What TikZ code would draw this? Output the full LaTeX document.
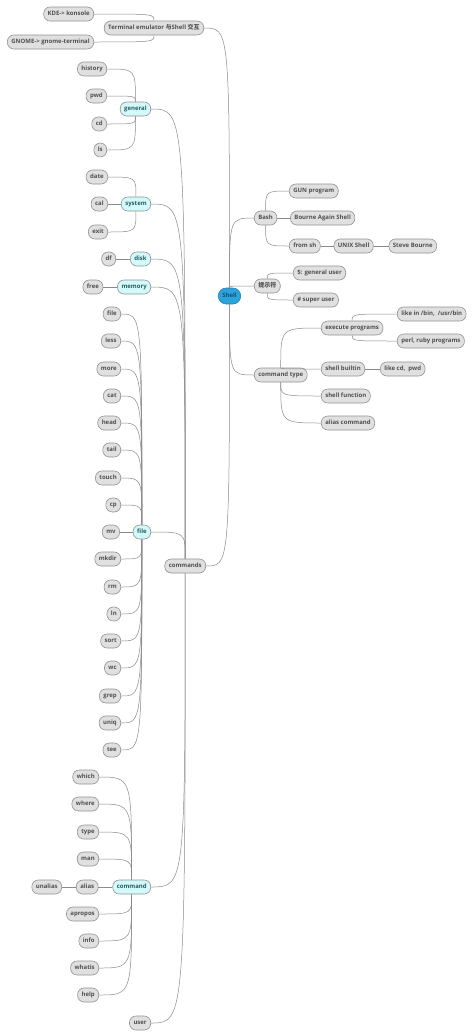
\documentclass[tikz,border=0pt]{standalone}
\usepackage{fontspec}
\setmainfont{Open Sans}
\newfontfamily\cjk{Noto Sans CJK SC}
\usepackage{xcolor}
\usetikzlibrary{positioning}
\definecolor{topicfill}{HTML}{E0E0E0}
\definecolor{topicdraw}{HTML}{929292}
\definecolor{topictext}{HTML}{505050}
\definecolor{groupfill}{HTML}{D2FAFA}
\definecolor{grouptext}{HTML}{2E5C62}
\definecolor{rootfill}{HTML}{2CA4DA}
\definecolor{rootdraw}{HTML}{1F80B0}
\definecolor{roottext}{HTML}{1A4C7C}
\definecolor{linkgray}{HTML}{8A8A8A}
\tikzset{
  topic/.style={
    draw=topicdraw,
    fill=topicfill,
    text=topictext,
    rounded corners=6.5pt,
    minimum height=14pt,
    inner xsep=4pt,
    inner ysep=0pt,
    text height=4.6pt,
    text depth=1.4pt,
    font=\bfseries\fontsize{6}{7}\selectfont,
    line width=0.6pt
  },
  group/.style={topic, fill=groupfill, text=grouptext},
  rootnode/.style={topic, fill=rootfill, draw=rootdraw, text=roottext, minimum height=16pt, rounded corners=8pt},
  link/.style={draw=linkgray, line width=0.5pt}
}

\begin{document}
\begin{tikzpicture}[x=1pt, y=-1pt, node distance=13pt]
  \path[fill=white] (0,0) rectangle (474,1036);

  % root
  \node[rootnode] (shell) at (229.5,296) {Shell};

  % left of root
  \node[topic, anchor=east] (term) at (204,28) {Terminal emulator {\cjk 与}Shell {\cjk 交互}};
  \node[topic, anchor=east] (kde) at (94,14) {KDE-> konsole};
  \node[topic, anchor=east] (gnome) at (94,42) {GNOME-> gnome-terminal};
  \node[topic, anchor=east] (commands) at (206,566) {commands};

  % groups under commands
  \node[group, anchor=east] (general) at (151,109) {general};
  \node[group, anchor=east] (system) at (151,204) {system};
  \node[group, anchor=east] (disk) at (151,259) {disk};
  \node[group, anchor=east] (memory) at (151,287) {memory};
  \node[group, anchor=east] (filegrp) at (151,532) {file};
  \node[group, anchor=east] (command) at (151,887) {command};
  \node[topic, anchor=east] (user) at (151,1023) {user};

  % general
  \node[topic, anchor=east] (history) at (107,69) {history};
  \node[topic, anchor=east] (pwd) at (107,96) {pwd};
  \node[topic, anchor=east] (cd) at (107,124) {cd};
  \node[topic, anchor=east] (ls) at (107,150) {ls};

  % system
  \node[topic, anchor=east] (date) at (108,177) {date};
  \node[topic, left=of system] (cal) {cal};
  \node[topic, anchor=east] (exit) at (108,232) {exit};

  % disk, memory
  \node[topic, left=14pt of disk] (df) {df};
  \node[topic, left=14pt of memory] (free) {free};

  % file
  \node[topic, anchor=east] (filecmd) at (121,314) {file};
  \node[topic, anchor=east] (less) at (121,341) {less};
  \node[topic, anchor=east] (more) at (121,369) {more};
  \node[topic, anchor=east] (cat) at (121,396) {cat};
  \node[topic, anchor=east] (head) at (121,423) {head};
  \node[topic, anchor=east] (tail) at (121,450) {tail};
  \node[topic, anchor=east] (touch) at (121,478) {touch};
  \node[topic, anchor=east] (cp) at (121,505) {cp};
  \node[topic, left=of filegrp] (mv) {mv};
  \node[topic, anchor=east] (mkdir) at (121,559) {mkdir};
  \node[topic, anchor=east] (rm) at (121,587) {rm};
  \node[topic, anchor=east] (ln) at (121,614) {ln};
  \node[topic, anchor=east] (sort) at (121,641) {sort};
  \node[topic, anchor=east] (wc) at (121,668) {wc};
  \node[topic, anchor=east] (grep) at (121,696) {grep};
  \node[topic, anchor=east] (uniq) at (121,723) {uniq};
  \node[topic, anchor=east] (tee) at (121,750) {tee};

  % command
  \node[topic, anchor=east] (which) at (99,777) {which};
  \node[topic, anchor=east] (where) at (99,804) {where};
  \node[topic, anchor=east] (type) at (99,832) {type};
  \node[topic, anchor=east] (man) at (99,859) {man};
  \node[topic, left=14pt of command] (alias) {alias};
  \node[topic, left=14pt of alias] (unalias) {unalias};
  \node[topic, anchor=east] (apropos) at (99,914) {apropos};
  \node[topic, anchor=east] (info) at (99,941) {info};
  \node[topic, anchor=east] (whatis) at (99,968) {whatis};
  \node[topic, anchor=east] (help) at (99,995) {help};

  % right of root
  \node[topic, anchor=west] (bash) at (254,218) {Bash};
  \node[topic, anchor=west] (prompt) at (254,286) {{\cjk 提示符}};
  \node[topic, anchor=west] (ctype) at (254,375) {command type};

  \node[topic, anchor=west] (gun) at (289,191) {GUN program};
  \node[topic, right=of bash] (bas) {Bourne Again Shell};
  \node[topic, anchor=west] (fromsh) at (289,246) {from sh};
  \node[topic, right=of fromsh] (unix) {UNIX Shell};
  \node[topic, right=15pt of unix] (steve) {Steve Bourne};

  \node[topic, anchor=west] (gnuser) at (293,273) {\$: general user};
  \node[topic, anchor=west] (super) at (293,300) {\# super user};

  \node[topic, anchor=west] (exec) at (321,328) {execute programs};
  \node[topic, anchor=west] (likebin) at (397,314) {like in /bin, \ /usr/bin};
  \node[topic, anchor=west] (perl) at (397,341) {perl, ruby programs};
  \node[topic, anchor=west] (builtin) at (321,369) {shell builtin};
  \node[topic, right=15pt of builtin] (likecd) {like cd, \ pwd};
  \node[topic, anchor=west] (func) at (321,396) {shell function};
  \node[topic, anchor=west] (aliascmd) at (321,423) {alias command};

  % links, left side
  \draw[link] (term.east) .. controls (shell |- term) .. (shell);
  \draw[link] (commands.east) .. controls (shell |- commands) .. (shell);
  \draw[link] (kde.east) .. controls (term |- kde) .. (term);
  \draw[link] (gnome.east) .. controls (term |- gnome) .. (term);

  \draw[link] (general.east) .. controls (commands |- general) .. (commands);
  \draw[link] (system.east) .. controls (commands |- system) .. (commands);
  \draw[link] (disk.east) .. controls (commands |- disk) .. (commands);
  \draw[link] (memory.east) .. controls (commands |- memory) .. (commands);
  \draw[link] (filegrp.east) .. controls (commands |- filegrp) .. (commands);
  \draw[link] (command.east) .. controls (commands |- command) .. (commands);
  \draw[link] (user.east) .. controls (commands |- user) .. (commands);

  \draw[link] (history.east) .. controls (general |- history) .. (general);
  \draw[link] (pwd.east) .. controls (general |- pwd) .. (general);
  \draw[link] (cd.east) .. controls (general |- cd) .. (general);
  \draw[link] (ls.east) .. controls (general |- ls) .. (general);

  \draw[link] (date.east) .. controls (system |- date) .. (system);
  \draw[link] (cal) -- (system);
  \draw[link] (exit.east) .. controls (system |- exit) .. (system);

  \draw[link] (df) -- (disk);
  \draw[link] (free) -- (memory);

  \draw[link] (filecmd.east) .. controls (filegrp |- filecmd) .. (filegrp);
  \draw[link] (less.east) .. controls (filegrp |- less) .. (filegrp);
  \draw[link] (more.east) .. controls (filegrp |- more) .. (filegrp);
  \draw[link] (cat.east) .. controls (filegrp |- cat) .. (filegrp);
  \draw[link] (head.east) .. controls (filegrp |- head) .. (filegrp);
  \draw[link] (tail.east) .. controls (filegrp |- tail) .. (filegrp);
  \draw[link] (touch.east) .. controls (filegrp |- touch) .. (filegrp);
  \draw[link] (cp.east) .. controls (filegrp |- cp) .. (filegrp);
  \draw[link] (mv) -- (filegrp);
  \draw[link] (mkdir.east) .. controls (filegrp |- mkdir) .. (filegrp);
  \draw[link] (rm.east) .. controls (filegrp |- rm) .. (filegrp);
  \draw[link] (ln.east) .. controls (filegrp |- ln) .. (filegrp);
  \draw[link] (sort.east) .. controls (filegrp |- sort) .. (filegrp);
  \draw[link] (wc.east) .. controls (filegrp |- wc) .. (filegrp);
  \draw[link] (grep.east) .. controls (filegrp |- grep) .. (filegrp);
  \draw[link] (uniq.east) .. controls (filegrp |- uniq) .. (filegrp);
  \draw[link] (tee.east) .. controls (filegrp |- tee) .. (filegrp);

  \draw[link] (which.east) .. controls (command |- which) .. (command);
  \draw[link] (where.east) .. controls (command |- where) .. (command);
  \draw[link] (type.east) .. controls (command |- type) .. (command);
  \draw[link] (man.east) .. controls (command |- man) .. (command);
  \draw[link] (alias) -- (command);
  \draw[link] (unalias) -- (alias);
  \draw[link] (apropos.east) .. controls (command |- apropos) .. (command);
  \draw[link] (info.east) .. controls (command |- info) .. (command);
  \draw[link] (whatis.east) .. controls (command |- whatis) .. (command);
  \draw[link] (help.east) .. controls (command |- help) .. (command);

  % links, right side
  \draw[link] (shell) .. controls (shell |- bash) .. (bash.west);
  \draw[link] (shell) .. controls (shell |- prompt) .. (prompt.west);
  \draw[link] (shell) .. controls (shell |- ctype) .. (ctype.west);

  \draw[link] (bash) .. controls (bash |- gun) .. (gun.west);
  \draw[link] (bash) -- (bas);
  \draw[link] (bash) .. controls (bash |- fromsh) .. (fromsh.west);
  \draw[link] (fromsh) -- (unix);
  \draw[link] (unix) -- (steve);

  \draw[link] (prompt) .. controls (prompt |- gnuser) .. (gnuser.west);
  \draw[link] (prompt) .. controls (prompt |- super) .. (super.west);

  \draw[link] (ctype) .. controls (ctype |- exec) .. (exec.west);
  \draw[link] (ctype) .. controls (ctype |- builtin) .. (builtin.west);
  \draw[link] (ctype) .. controls (ctype |- func) .. (func.west);
  \draw[link] (ctype) .. controls (ctype |- aliascmd) .. (aliascmd.west);
  \draw[link] (exec) .. controls (exec |- likebin) .. (likebin.west);
  \draw[link] (exec) .. controls (exec |- perl) .. (perl.west);
  \draw[link] (builtin) -- (likecd);
\end{tikzpicture}
\end{document}
